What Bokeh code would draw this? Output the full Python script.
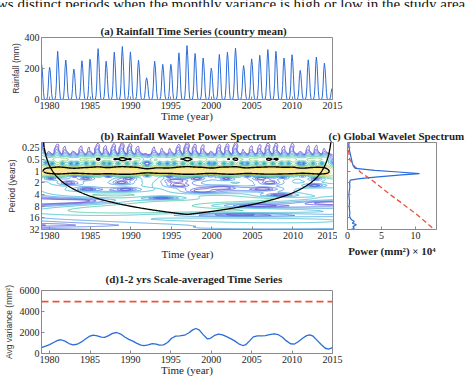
import numpy as np
from bokeh.plotting import figure
from bokeh.layouts import column, row
from bokeh.models import Range1d, FixedTicker, Div, Span
from bokeh.embed import file_html
from bokeh.resources import INLINE

# ---------------- data ----------------
rain_years = list(range(1979, 2015))
jan_mm = [230, 208, 311, 255, 196, 250, 260, 328, 247, 305, 342, 307, 254, 140, 247, 227, 227, 301, 348, 297,
          268, 202, 291, 305, 332, 219, 262, 285, 322, 311, 268, 289, 188, 256, 274, 235]
feb_mm = [200, 185, 250, 215, 175, 215, 230, 270, 205, 255, 280, 255, 215, 125, 210, 195, 200, 250, 285, 250,
          230, 180, 245, 260, 275, 190, 225, 240, 270, 265, 230, 245, 165, 215, 235, 200]
mar_mm = [130, 120, 160, 135, 110, 140, 150, 175, 130, 165, 180, 165, 140, 85, 135, 125, 130, 160, 185, 160,
          150, 115, 160, 170, 180, 125, 145, 155, 175, 170, 150, 160, 105, 140, 150, 130]
apr_mm = [45, 40, 55, 45, 35, 50, 50, 60, 45, 55, 60, 55, 50, 30, 45, 40, 45, 55, 60, 55,
          50, 40, 55, 60, 60, 40, 50, 50, 60, 55, 50, 55, 35, 45, 50, 45]
dry_mm = [8, 1, 0, 0, 3]          # May .. Sep
oct_mm = [20, 25, 22, 18, 20, 24, 26, 20, 22, 28, 25, 20, 15, 22, 20, 20, 24, 28, 25, 22,
          18, 22, 25, 28, 20, 22, 25, 27, 25, 22, 25, 18, 22, 24, 22, 15]
nov_mm = [80, 95, 85, 70, 80, 90, 100, 80, 90, 105, 95, 85, 60, 85, 80, 80, 95, 105, 95, 85,
          75, 90, 95, 100, 80, 90, 95, 100, 95, 90, 95, 70, 85, 90, 85, 45]
dec_mm = [170, 240, 205, 160, 200, 210, 260, 200, 240, 275, 245, 205, 120, 200, 185, 185, 240, 280, 240, 215,
          165, 230, 245, 265, 180, 215, 230, 260, 250, 215, 240, 155, 205, 220, 190, 70]

# (c) global wavelet spectrum (x 10^4 mm^2)
gws_period = [0.177, 0.2, 0.25, 0.3, 0.35, 0.42, 0.5, 0.6, 0.7, 0.8, 0.85, 0.95, 1.05, 1.15, 1.25, 1.4,
              1.55, 1.7, 2, 2.5, 3, 4, 5, 6, 8, 10, 12, 14, 16, 18, 20, 22, 24, 27, 30, 32]
gws_power = [0.3, 0.2, 0.25, 0.3, 0.4, 0.5, 0.6, 0.7, 0.8, 1.0, 1.2, 4.0, 7.5, 10.6, 8.0, 4.5,
             1.8, 0.4, 0.3, 0.35, 0.3, 0.2, 0.25, 0.3, 0.25, 0.3, 0.35, 0.3, 0.4, 0.6, 1.0, 0.7, 1.3, 0.8, 1.0, 0.5]
gws_sig_period = [0.177, 0.21, 0.35, 0.5, 0.73, 1.08, 1.75, 3.8, 6.9, 13.6, 32]
gws_sig_power = [0.0, 0.05, 0.2, 0.34, 0.98, 1.96, 3.68, 6.1, 8.1, 10.3, 12.8]

# (d) 1-2 yr scale-averaged variance (mm^2)
avg_year = [1979.0, 1979.5, 1980.0, 1980.5, 1981.0, 1981.4, 1981.9, 1982.4, 1982.9, 1983.4, 1983.9, 1984.4,
            1984.9, 1985.4, 1985.9, 1986.4, 1986.8, 1987.3, 1987.8, 1988.3, 1988.8, 1989.3, 1989.8, 1990.3,
            1990.8, 1991.3, 1991.7, 1992.2, 1992.7, 1993.2, 1993.6, 1994.1, 1994.6, 1995.1, 1995.6, 1996.1,
            1996.7, 1997.2, 1997.7, 1998.1, 1998.5, 1999.0, 1999.5, 1999.9, 2000.4, 2000.9, 2001.4, 2001.9,
            2002.4, 2002.9, 2003.4, 2003.9, 2004.3, 2004.8, 2005.2, 2005.7, 2006.2, 2006.7, 2007.2, 2007.8,
            2008.3, 2008.8, 2009.3, 2009.8, 2010.3, 2010.8, 2011.3, 2011.8, 2012.2, 2012.6, 2013.1, 2013.6,
            2014.1, 2014.5, 2015.0]
avg_var = [560, 700, 850, 1050, 1250, 1310, 1180, 950, 820, 880, 1080, 1350,
           1620, 1750, 1680, 1560, 1530, 1700, 1920, 2000, 1850, 1570, 1350, 1180,
           960, 800, 740, 820, 950, 900, 800, 820, 1050, 1450, 1660, 1680,
           1740, 1950, 2250, 2380, 2250, 1800, 1400, 1450, 1720, 1850, 1780, 1600,
           1420, 1200, 920, 760, 850, 1250, 1580, 1680, 1670, 1700, 1800, 1860,
           1790, 1550, 1200, 930, 900, 1150, 1450, 1700, 1780, 1650, 1250, 850,
           500, 420, 560]
avg_sig95 = 4950

year_ticks = [1980, 1985, 1990, 1995, 2000, 2005, 2010, 2015]
period_ticks = [0.25, 0.5, 1, 2, 4, 8, 16, 32]

# ---------------- monthly series and Morlet wavelet transform ----------------
rain = []
for i in range(len(rain_years)):
    rain += [jan_mm[i], feb_mm[i], mar_mm[i], apr_mm[i]] + dry_mm + [oct_mm[i], nov_mm[i], dec_mm[i]]
rain = np.array(rain, float)
t = rain_years[0] + np.arange(len(rain)) / 12.0

x = rain - rain.mean()
variance = np.var(x, ddof=1)
n1 = len(x)
dt, dj, k0 = 1 / 12, 1 / 12, 6.0
s0 = 2 * dt
ff = 4 * np.pi / (k0 + np.sqrt(2 + k0 ** 2))
J1 = int(np.ceil(np.log2(32 / (s0 * ff)) / dj))
n = 2 ** (int(np.ceil(np.log2(n1))) + 1)
xp = np.zeros(n)
xp[:n1] = x
kpos = np.arange(1, n // 2 + 1) * (2 * np.pi / (n * dt))
k = np.concatenate([[0.0], kpos, -kpos[:(n - 1) // 2][::-1]])
fx = np.fft.fft(xp)
scale = s0 * 2 ** (np.arange(J1 + 1) * dj)
period = scale * ff
power = np.empty((J1 + 1, n1))
for i, s in enumerate(scale):
    expnt = -((s * k - k0) ** 2) / 2 * (k > 0)
    norm = np.sqrt(s * k[1]) * np.pi ** (-0.25) * np.sqrt(n)
    daughter = norm * np.exp(expnt) * (k > 0)
    power[i] = np.abs(np.fft.ifft(fx * daughter)[:n1]) ** 2
coi = ff / np.sqrt(2) * dt * np.concatenate([[1e-5], np.arange(1, (n1 + 1) // 2),
                                             np.arange(n1 // 2 - 1, 0, -1), [1e-5]])
lag1 = 0.72   # red-noise lag-1 autocorrelation used for the 95% test
theor = (1 - lag1 ** 2) / (1 - 2 * lag1 * np.cos(2 * np.pi * dt / period) + lag1 ** 2)
sig95 = power / (variance * theor * 5.991 / 2)[:, None]
zlog = np.log2(power / variance)
logp = np.log2(period)

# ---------------- styling helpers ----------------
SERIF = "Liberation Serif"
SANS = "Liberation Sans"
AXC = "#8a8a8a"
TXT = "#1e1e1e"
BLUE = "#2c6cd8"
RED = "#e8553e"


def style(p, xt, yt, tick_size="10px"):
    p.outline_line_color = AXC
    p.xgrid.visible = False
    p.ygrid.visible = False
    for ax in (p.xaxis[0], p.yaxis[0]):
        ax.axis_line_color = AXC
        ax.major_tick_line_color = AXC
        ax.minor_tick_line_color = None
        ax.major_tick_in = 3
        ax.major_tick_out = 0
        ax.major_label_text_font = SERIF
        ax.major_label_text_font_size = tick_size
        ax.major_label_text_color = TXT
        ax.major_label_standoff = 2
    p.xaxis.ticker = FixedTicker(ticks=xt)
    p.yaxis.ticker = FixedTicker(ticks=yt)
    p.title.text_font = SERIF
    p.title.text_font_style = "bold"
    p.title.text_font_size = "11px"
    p.title.text_color = TXT
    p.title.align = "left"
    p.title.standoff = 2


def ylabel(p, text, standoff):
    ax = p.yaxis[0]
    ax.axis_label = text
    ax.axis_label_text_font = SANS
    ax.axis_label_text_font_style = "normal"
    ax.axis_label_text_font_size = "8.5px"
    ax.axis_label_text_color = "#333333"
    ax.axis_label_standoff = standoff


def xlabel(p, text, standoff, bold=False):
    ax = p.xaxis[0]
    ax.axis_label = text
    ax.axis_label_text_font = SERIF
    ax.axis_label_text_font_style = "bold" if bold else "normal"
    ax.axis_label_text_font_size = "11px"
    ax.axis_label_text_color = TXT
    ax.axis_label_standoff = standoff


# ---------------- top text (line of the page, cut by the window) ----------------
top = Div(text=('<div style="margin-top:-6px;white-space:nowrap;font-family:\'Liberation Serif\';'
                'font-size:15px;line-height:15px;color:#111111">'
                'ws distinct periods when the monthly variance is high or low in the study area</div>'),
          width=474, height=10, styles={"overflow": "hidden"})

# ---------------- (a) ----------------
pa = figure(width=474, height=112, x_range=Range1d(1979, 2015), y_range=Range1d(0, 400),
            output_backend="svg", toolbar_location=None, title="(a) Rainfall Time Series (country mean)",
            min_border_left=49, min_border_right=133, min_border_top=25, min_border_bottom=25)
style(pa, year_ticks, [0, 200, 400])
pa.title.offset = 59
ylabel(pa, "Rainfall (mm)", 1)
xlabel(pa, "Time (year)", -2)
pa.line(t, rain, line_color=BLUE, line_width=1.0)

# ---------------- (b) ----------------
pb = figure(width=345, height=138, x_range=Range1d(1979, 2015), y_range=Range1d(5, -2.46),
            output_backend="svg", toolbar_location=None, title="(b) Rainfall Wavelet Power Spectrum",
            min_border_left=49, min_border_right=4, min_border_top=18, min_border_bottom=32)
style(pb, year_ticks, [float(np.log2(v)) for v in period_ticks])
pb.yaxis.major_label_overrides = {float(np.log2(v)): (str(v) if v < 1 else str(int(v))) for v in period_ticks}
pb.title.offset = 59
ylabel(pb, "Period (years)", 2)
xlabel(pb, "Time (year)", 6)

zmax = float(zlog.max())
pb.contour(x=t, y=logp, z=zlog, levels=[2.5, zmax + 1], fill_color="#f6e8a2", line_color=None)
levels = [-6, -5, -4, -3, -2, -1, 0, 1, 2, 3]
pal = ["#5a3fc0", "#5a55dd", "#4f78e6", "#3f9ae0", "#35b8cf", "#3cc4a0", "#7acb74", "#bfc95a",
       "#ead24e", "#f2df55"]
pb.contour(x=t, y=logp, z=zlog, levels=levels, line_color=pal, line_width=0.8, fill_color=None)
pb.contour(x=t, y=logp, z=sig95, levels=[1.0], line_color="black", line_width=1.4, fill_color=None)
pb.line(t, np.log2(coi), line_color="black", line_width=1.3)

# ---------------- (c) ----------------
pc = figure(width=144, height=138, x_range=Range1d(0, 13.1), y_range=Range1d(5, -2.46),
            output_backend="svg", toolbar_location=None, title="(c) Global Wavelet Spectrum",
            min_border_left=25, min_border_right=30, min_border_top=18, min_border_bottom=32,
            border_fill_alpha=0, styles={"margin-left": "-15px"})
style(pc, [0, 5, 10], [float(np.log2(v)) for v in period_ticks])
pc.yaxis.major_label_overrides = {float(np.log2(v)): "" for v in period_ticks}
pc.title.offset = -19
xlabel(pc, "Power (mm²) × 10⁴", 3, bold=True)
pc.line(gws_sig_power, np.log2(gws_sig_period), line_color=RED, line_width=1.3, line_dash="5 3")
pc.line(gws_power, np.log2(gws_period), line_color=BLUE, line_width=1.2)

# ---------------- (d) ----------------
pd_ = figure(width=474, height=116, x_range=Range1d(1979, 2015), y_range=Range1d(0, 6000),
             output_backend="svg", toolbar_location=None, title="(d)1-2 yrs Scale-averaged Time Series",
             min_border_left=48, min_border_right=134, min_border_top=28, min_border_bottom=25)
style(pd_, year_ticks, [0, 2000, 4000, 6000])
pd_.title.offset = 64
pd_.title.standoff = 12
ylabel(pd_, "Avg variance (mm²)", 3)
xlabel(pd_, "Time (year)", -2)
pd_.add_layout(Span(location=avg_sig95, dimension="width", line_color=RED, line_width=1.8,
                    line_dash="7 4"))
pd_.line(avg_year, avg_var, line_color=BLUE, line_width=1.3)

layout = column(top, pa, row(pb, pc), pd_,
                styles={"margin-top": "-8px", "margin-left": "-8px", "margin-bottom": "-8px"})
open("out.html", "w").write(file_html(layout, INLINE))
